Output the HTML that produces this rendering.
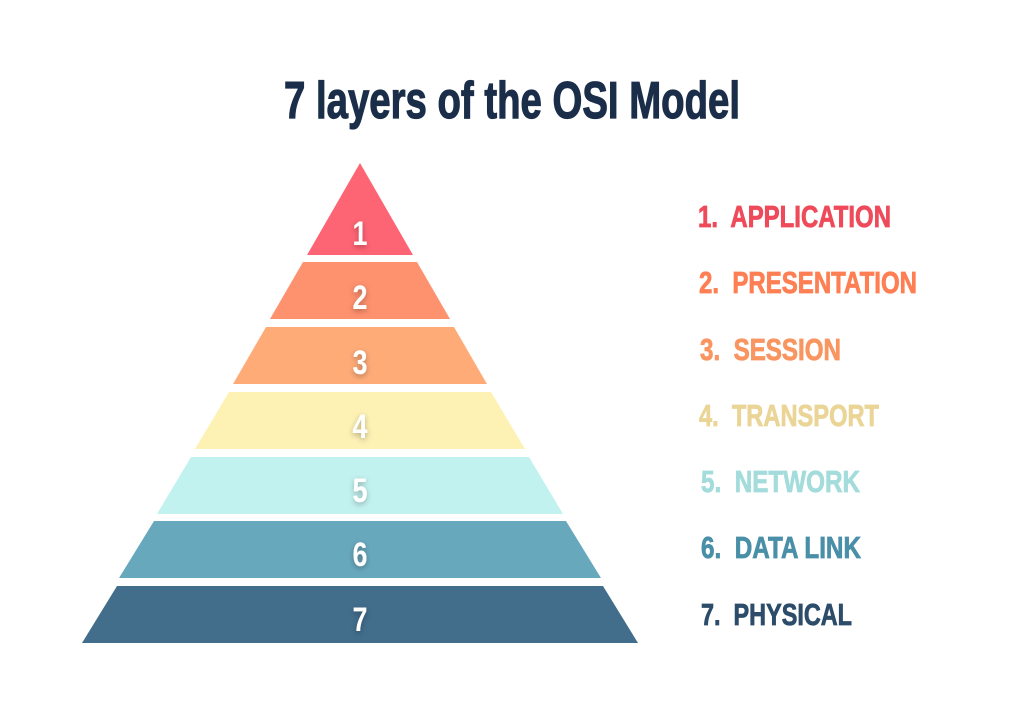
<!DOCTYPE html>
<html><head><meta charset="utf-8"><style>
html,body{margin:0;padding:0;background:#fff;width:1024px;height:722px;overflow:hidden}
text{font-family:"Liberation Sans Narrow","Liberation Sans",sans-serif;font-weight:bold}
</style></head><body>
<svg width="1024" height="722" viewBox="0 0 1024 722">
<defs><filter id="s" x="-50%" y="-50%" width="200%" height="200%"><feDropShadow dx="0" dy="2" stdDeviation="3" flood-color="#000" flood-opacity="0.3"/></filter></defs>
<text x="512" y="118" text-anchor="middle" font-size="52" fill="#1a2e4a" stroke="#1a2e4a" stroke-width="1.2" textLength="456" lengthAdjust="spacingAndGlyphs">7 layers of the OSI Model</text>
<polygon points="360,163 413,255 307,255" fill="#fe6574"/>
<polygon points="303,262 417,262 450,319 270,319" fill="#fe916e"/>
<polygon points="266,327 454,327 487,384 233,384" fill="#feab78"/>
<polygon points="229,392 491,392 525,449 195,449" fill="#fdf1b4"/>
<polygon points="191,457 529,457 563,514 157,514" fill="#c2f2f0"/>
<polygon points="154,521 566,521 601,578 119,578" fill="#68a8bd"/>
<polygon points="117,586 603,586 638,643 82,643" fill="#426d8b"/>
<g font-size="34" fill="#fff" text-anchor="middle" filter="url(#s)">
<text x="360" y="245" textLength="15" lengthAdjust="spacingAndGlyphs">1</text>
<text x="360" y="309" textLength="15" lengthAdjust="spacingAndGlyphs">2</text>
<text x="360" y="374" textLength="15" lengthAdjust="spacingAndGlyphs">3</text>
<text x="360" y="438" textLength="15" lengthAdjust="spacingAndGlyphs">4</text>
<text x="360" y="502" textLength="15" lengthAdjust="spacingAndGlyphs">5</text>
<text x="360" y="566" textLength="15" lengthAdjust="spacingAndGlyphs">6</text>
<text x="360" y="631" textLength="15" lengthAdjust="spacingAndGlyphs">7</text>
</g>
<g font-size="31" stroke-width="0.8">
<text x="698" y="227" fill="#ee4a5a" stroke="#ee4a5a" textLength="193" lengthAdjust="spacingAndGlyphs">1.&#160; APPLICATION</text>
<text x="699" y="293" fill="#fd7f53" stroke="#fd7f53" textLength="218" lengthAdjust="spacingAndGlyphs">2.&#160; PRESENTATION</text>
<text x="700" y="360" fill="#f99560" stroke="#f99560" textLength="141" lengthAdjust="spacingAndGlyphs">3.&#160; SESSION</text>
<text x="699" y="426" fill="#ead597" stroke="#ead597" textLength="180" lengthAdjust="spacingAndGlyphs">4.&#160; TRANSPORT</text>
<text x="701" y="492" fill="#a4dcdc" stroke="#a4dcdc" textLength="159" lengthAdjust="spacingAndGlyphs">5.&#160; NETWORK</text>
<text x="701" y="558" fill="#4a8fa8" stroke="#4a8fa8" textLength="160" lengthAdjust="spacingAndGlyphs">6.&#160; DATA LINK</text>
<text x="701" y="625" fill="#2c4c6a" stroke="#2c4c6a" textLength="151" lengthAdjust="spacingAndGlyphs">7.&#160; PHYSICAL</text>
</g>
</svg>
</body></html>
